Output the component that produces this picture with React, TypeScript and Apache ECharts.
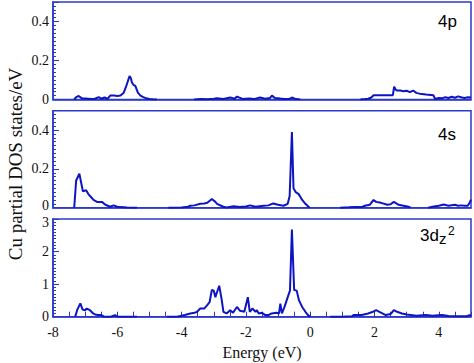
import React, { useEffect, useRef } from "react";
import * as echarts from "echarts";

// ---- Data (null = gap in the curve) ----
const energy4p = [
  -7.34, -7.28, -7.2, -7.1, -7.0, -6.9, -6.8, -6.7, -6.58, -6.5, -6.4, -6.3, -6.22, -6.1, -6.0, -5.9,
  -5.8, -5.72, -5.66, -5.62, -5.58, -5.55, -5.5, -5.44, -5.36, -5.28, -5.19, -5.1, -5.0, -4.9, -4.77,
  -4.6,
  -3.61, -3.4, -3.2, -3.0, -2.9, -2.7, -2.49, -2.35, -2.28, -2.1, -1.9, -1.75, -1.56, -1.4, -1.25,
  -1.19, -1.1, -0.93, -0.8, -0.65, -0.57, -0.45, -0.31,
  0.5,
  1.56, 1.7, 1.8, 1.9, 1.97, 2.2, 2.4, 2.57, 2.61, 2.66, 2.7, 2.8, 2.9, 3.0, 3.1, 3.2, 3.3, 3.4,
  3.6, 3.83, 3.88, 4.0, 4.1, 4.2, 4.3, 4.4, 4.5, 4.6, 4.72, 4.8, 4.9, 5.0,
];
const dos4p = [
  0, 0.012, 0.018, 0.006, 0.005, 0.004, 0.003, 0.004, 0.012, 0.004, 0.01, 0.004, 0.02, 0.02, 0.018, 0.02,
  0.035, 0.07, 0.1, 0.12, 0.11, 0.09, 0.075, 0.07, 0.035, 0.02, 0.012, 0.006, 0.003, 0.001, 0,
  null,
  0, 0.002, 0.001, 0.004, 0.006, 0.003, 0.01, 0.004, 0.015, 0.003, 0.005, 0.002, 0.01, 0.004, 0.008,
  0.02, 0.008, 0.005, 0.003, 0.002, 0.01, 0.002, 0,
  null,
  0, 0.002, 0.004, 0.01, 0.022, 0.022, 0.022, 0.022, 0.066, 0.05, 0.046, 0.046, 0.042, 0.045, 0.038,
  0.046, 0.034, 0.03, 0.026, 0.022, 0.003, 0.008, 0.006, 0.012, 0.008, 0.014, 0.009, 0.016, 0.01,
  0.008, 0.012, 0.01,
];

const energy4s = [
  -7.34, -7.28, -7.18, -7.07, -6.97, -6.9, -6.82, -6.74, -6.63, -6.55, -6.48, -6.37, -6.22, -6.12,
  -6.0, -5.91, -5.7, -5.39,
  -5.0,
  -4.41, -4.0, -3.8, -3.73, -3.6, -3.42, -3.3, -3.2, -3.06, -2.95, -2.9, -2.7, -2.6, -2.38, -2.2,
  -2.0, -1.87, -1.7, -1.45, -1.3, -1.15, -1.0, -0.83, -0.7, -0.64, -0.57, -0.52, -0.45, -0.36, -0.25,
  -0.15, -0.02,
  0.4,
  0.93, 1.2, 1.4, 1.6, 1.7, 1.85, 1.97, 2.05, 2.2, 2.4, 2.5, 2.6, 2.75, 2.9, 3.05, 3.12,
  3.4,
  3.67, 3.8, 4.0, 4.15, 4.3, 4.5, 4.6, 4.7, 4.8, 4.9, 4.94, 5.0,
];
const dos4s = [
  0, 0.14, 0.175, 0.085, 0.09, 0.07, 0.055, 0.04, 0.03, 0.03, 0.03, 0.015, 0.005, 0.012,
  0.005, 0.003, 0.001, 0,
  null,
  0, 0.001, 0.005, 0.01, 0.012, 0.02, 0.022, 0.025, 0.045, 0.03, 0.02, 0.005, 0.001, 0.008, 0.004,
  0.006, 0.012, 0.005, 0.01, 0.012, 0.022, 0.015, 0.01, 0.02, 0.06, 0.39, 0.1, 0.08, 0.07, 0.04,
  0.02, 0,
  null,
  0, 0.002, 0.004, 0.003, 0.01, 0.015, 0.04, 0.03, 0.025, 0.015, 0.018, 0.03, 0.015, 0.01, 0.005, 0,
  null,
  0, 0.005, 0.01, 0.016, 0.01, 0.015, 0.01, 0.012, 0.01, 0.01, 0.02, 0.042, 0.035,
];

const energyDz2 = [
  -7.31, -7.25, -7.15, -7.08, -7.0, -6.95, -6.85, -6.75, -6.69, -6.6, -6.53, -6.45, -6.43, -6.2,
  -6.07, -6.0, -5.7, -5.39,
  -5.0,
  -4.46, -4.14, -4.0, -3.9, -3.73, -3.6, -3.52, -3.42, -3.3, -3.21, -3.13, -3.06, -3.0, -2.95, -2.9,
  -2.83, -2.75, -2.7, -2.6, -2.49, -2.4, -2.28, -2.18, -2.05, -1.94, -1.88, -1.8, -1.7, -1.66, -1.6,
  -1.5, -1.4, -1.3, -1.2, -1.05, -0.97, -0.93, -0.88, -0.8, -0.7, -0.63, -0.57, -0.5, -0.42, -0.35,
  -0.25, -0.15, -0.07, 0,
  0.3,
  0.62, 1.0, 1.3, 1.35, 1.6, 1.8, 1.95, 2.05, 2.15, 2.35, 2.5, 2.6, 2.7, 2.85, 3.0, 3.3, 3.6, 3.8,
  4.1, 4.3, 4.6, 4.85, 4.95, 5.0,
];
const dosDz2 = [
  0, 0.2, 0.41, 0.22, 0.2, 0.25, 0.2, 0.1, 0.07, 0.05, 0.05, 0.03, 0, 0,
  0.05, 0, 0, 0,
  null,
  0, 0, 0.03, 0.05, 0.1, 0.12, 0.15, 0.25, 0.25, 0.35, 0.45, 0.82, 0.8, 0.6, 0.75,
  0.95, 0.5, 0.15, 0.1, 0.2, 0.12, 0.3, 0.18, 0.15, 0.6, 0.15, 0.25, 0.15, 0.2, 0.1,
  0.12, 0.05, 0.05, 0.1, 0.12, 0.1, 0.4, 0.1, 0.3, 0.6, 0.8, 2.68, 0.82, 0.8, 0.5,
  0.3, 0.15, 0.05, 0,
  null,
  0, 0, 0.01, 0.05, 0.05, 0.1, 0.15, 0.2, 0.15, 0.05, 0.08, 0.2, 0.15, 0.1, 0.07, 0.03, 0.05, 0.03,
  0.05, 0.02, 0.01, 0.01, 0.05, 0.03,
];

const yTicks4p = { max: 0.5, interval: 0.2 };
const yTicks4s = { max: 0.5, interval: 0.2 };
const yTicksDz2 = { max: 3, interval: 1 };
const xRange = { min: -8, max: 5, interval: 2 };
const panelLabels = ["4p", "4s"];

const LINE = "#0d14c4";
const BORDER = "#2b38cc";
const SERIF = "Liberation Serif";
const SANS = "Liberation Sans";

const pairs = (xs: number[], ys: (number | null)[]) =>
  xs.map((x, i) => [x, ys[i] === null ? "-" : ys[i]]);

export default function App() {
  const ref = useRef<HTMLDivElement>(null);
  useEffect(() => {
    if (!ref.current) return;
    const chart = echarts.init(ref.current, undefined, { renderer: "svg" });
    const grids = [
      { left: 53, width: 418, top: 2, height: 97.5 },
      { left: 53, width: 418, top: 110.7, height: 97 },
      { left: 53, width: 418, top: 219, height: 97.7 },
    ].map((g) => ({ ...g, show: true, borderColor: BORDER, borderWidth: 1.5, backgroundColor: "#fff" }));

    const xAxes = [0, 1, 2].map((i) => ({
      type: "value",
      gridIndex: i,
      min: xRange.min,
      max: xRange.max,
      interval: xRange.interval,
      axisLine: { show: true, onZero: false, lineStyle: { color: BORDER, width: 1.5 } },
      axisTick: { show: i === 2, inside: true, length: 5, lineStyle: { color: BORDER } },
      minorTick: { show: i === 2, splitNumber: 4, length: 5, lineStyle: { color: BORDER } },
      axisLabel: {
        show: i === 2,
        showMaxLabel: false,
        margin: 9,
        color: "#111",
        fontFamily: SERIF,
        fontSize: 14,
      },
      splitLine: { show: false },
    }));

    const yCfg = [yTicks4p, yTicks4s, yTicksDz2];
    const richBase = { fontFamily: SERIF, fontSize: 14, color: "#111" };
    const yAxes = yCfg.map((c, i) => ({
      type: "value",
      gridIndex: i,
      min: 0,
      max: c.max,
      interval: c.interval,
      axisLine: { show: true, onZero: false, lineStyle: { color: BORDER, width: 1.5 } },
      axisTick: { show: true, inside: true, length: 6, lineStyle: { color: BORDER } },
      minorTick: { show: true, splitNumber: 10, length: 3, lineStyle: { color: BORDER } },
      axisLabel: {
        showMaxLabel: i === 2,
        margin: 4,
        color: "#111",
        fontFamily: SERIF,
        fontSize: 14,
        formatter: (v: number) => {
          if (i === 1 && v === 0) return "{lo|0}";
          if (i === 2 && v === c.max) return `{hi|${v}}`;
          return `{n|${v}}`;
        },
        rich: {
          n: { ...richBase },
          lo: { ...richBase, lineHeight: 10, padding: [0, 0, 4, 0] },
          hi: { ...richBase, lineHeight: 10, padding: [6, 0, 0, 0] },
        },
      },
      splitLine: { show: false },
    }));

    const dataSets = [pairs(energy4p, dos4p), pairs(energy4s, dos4s), pairs(energyDz2, dosDz2)];
    const series = dataSets.map((d, i) => ({
      type: "line",
      xAxisIndex: i,
      yAxisIndex: i,
      data: d,
      showSymbol: false,
      symbol: "none",
      connectNulls: false,
      lineStyle: { color: LINE, width: 2 },
      itemStyle: { color: LINE },
      z: 3,
    }));

    chart.setOption({
      animation: false,
      backgroundColor: "#fff",
      textStyle: { fontFamily: SERIF },
      grid: grids,
      xAxis: xAxes,
      yAxis: yAxes,
      series,
      graphic: [
        {
          type: "text",
          x: 457,
          y: 21,
          style: { text: panelLabels[0], font: `17px ${SANS}`, fill: "#000", align: "right", verticalAlign: "middle" },
        },
        {
          type: "text",
          x: 456,
          y: 134,
          style: { text: panelLabels[1], font: `17px ${SANS}`, fill: "#000", align: "right", verticalAlign: "middle" },
        },
        {
          type: "text",
          x: 420,
          y: 235.5,
          style: { text: "3d", font: `17px ${SANS}`, fill: "#000", align: "left", verticalAlign: "middle" },
        },
        {
          type: "text",
          x: 439,
          y: 238,
          style: { text: "z", font: `15px ${SANS}`, fill: "#000", align: "left", verticalAlign: "middle" },
        },
        {
          type: "text",
          x: 448,
          y: 231,
          style: { text: "2", font: `12px ${SANS}`, fill: "#000", align: "left", verticalAlign: "middle" },
        },
        {
          type: "text",
          x: 15,
          y: 164,
          rotation: Math.PI / 2,
          style: {
            text: "Cu partial DOS states/eV",
            font: `19px ${SERIF}`,
            fill: "#111",
            align: "center",
            verticalAlign: "middle",
          },
        },
        {
          type: "text",
          x: 262,
          y: 352,
          style: { text: "Energy (eV)", font: `16px ${SERIF}`, fill: "#111", align: "center", verticalAlign: "middle" },
        },
      ],
    });
    return () => chart.dispose();
  }, []);
  return (
    <div
      ref={ref}
      style={{ position: "fixed", left: 0, top: 0, width: 474, height: 363, background: "#fff" }}
    />
  );
}
